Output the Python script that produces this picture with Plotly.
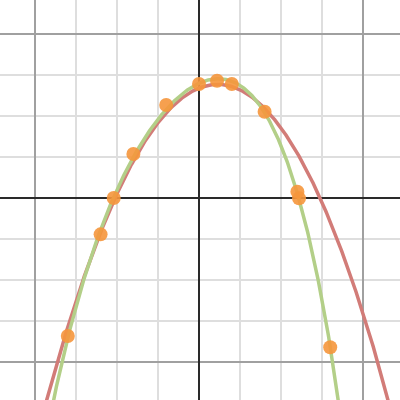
import numpy as np
import plotly.graph_objects as go

# Orange data points
pts_x = [-1.6, -1.2, -1.04, -0.8, -0.4, 0.0, 0.22, 0.4, 0.8, 1.2, 1.22, 1.6]
pts_y = [-1.683, -0.443, 0.0, 0.537, 1.134, 1.39, 1.43, 1.39, 1.052, 0.077, -0.004, -1.821]

# Red curve: quadratic in vertex form (a, h, k)
red_vertex = [-0.887, 0.226, 1.386]

# Green curve: fitted through the orange points
green_degree = 4

xs = np.linspace(-2.5, 2.5, 600)
a, h, k = red_vertex
red_y = a * (xs - h) ** 2 + k
green_coef = np.polyfit(pts_x, pts_y, green_degree)
green_y = np.polyval(green_coef, xs)

fig = go.Figure()
fig.add_trace(go.Scatter(x=xs, y=red_y, mode="lines",
                         line=dict(color="#d27c78", width=3.5), hoverinfo="skip"))
fig.add_trace(go.Scatter(x=xs, y=green_y, mode="lines",
                         line=dict(color="#b3cf88", width=3.5), hoverinfo="skip"))
fig.add_trace(go.Scatter(x=pts_x, y=pts_y, mode="markers",
                         marker=dict(color="#f5963c", size=14, opacity=0.9,
                                     line=dict(width=0))))

axis_common = dict(
    showticklabels=False, ticks="", dtick=2, tick0=0,
    showgrid=True, gridcolor="#a0a0a0", gridwidth=1.5,
    minor=dict(dtick=0.5, tick0=0, showgrid=True, gridcolor="#dedede", gridwidth=1.5),
    zeroline=True, zerolinecolor="#2a2a2a", zerolinewidth=2,
    showline=False, fixedrange=True,
)
fig.update_layout(
    width=400, height=400,
    margin=dict(l=0, r=0, t=0, b=0),
    paper_bgcolor="white", plot_bgcolor="white",
    showlegend=False,
    xaxis=dict(range=[-199 / 82, 201 / 82], **axis_common),
    yaxis=dict(range=[-202 / 82, 198 / 82], **axis_common),
)
fig.write_html(
    "out.html",
    config={"displayModeBar": False},
    post_script="document.body.style.margin='0';document.body.style.overflow='hidden';",
)
